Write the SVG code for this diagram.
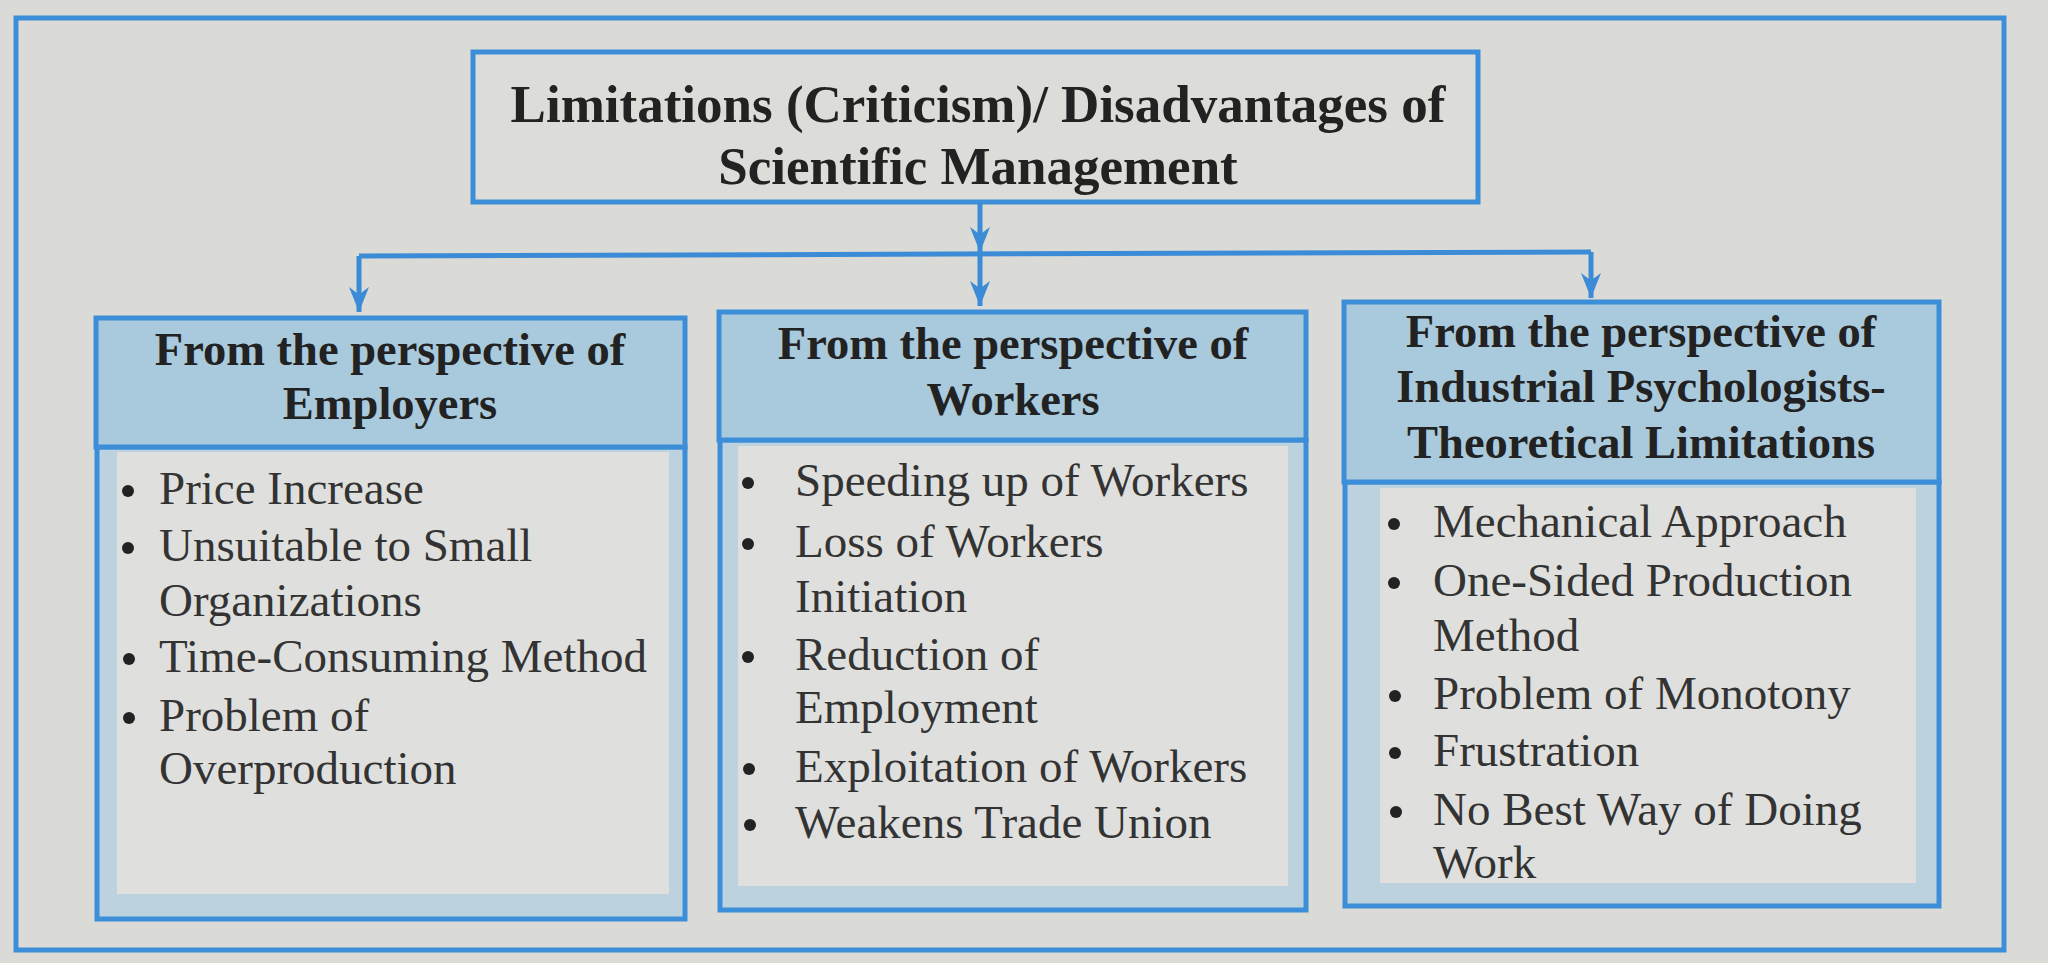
<svg xmlns="http://www.w3.org/2000/svg" width="2048" height="963" viewBox="0 0 2048 963">
<defs>
<style>
.bg{fill:#dadad6}
.frame{fill:none;stroke:#3d8ed8;stroke-width:5}
.title-box{fill:#dcdcd8;stroke:#3d8ed8;stroke-width:5}
.hdr{fill:#a9c9dc;stroke:#3d8ed8;stroke-width:5}
.body{fill:#bcd3df;stroke:#3d8ed8;stroke-width:5}
.inner{fill:#dfe0dd}
.title{font-family:"Liberation Serif",serif;font-weight:bold;font-size:53px;fill:#222;text-anchor:middle}
.htxt{font-family:"Liberation Serif",serif;font-weight:bold;font-size:46.5px;fill:#222;text-anchor:middle}
.item{font-family:"Liberation Serif",serif;font-size:47px;fill:#333}
.dot{fill:#222}
.conn{fill:none;stroke:#3b8bd6;stroke-width:5}
</style>
<marker id="arr" viewBox="0 0 10 10" refX="10" refY="5" markerWidth="6" markerHeight="5" orient="auto" markerUnits="strokeWidth">
<path d="M0,1 L10,5 L0,9 L3,5 z" fill="#3b8bd6"/>
</marker>
</defs>
<rect class="bg" x="0" y="0" width="2048" height="963"/>
<rect class="frame" x="16" y="18" width="1988" height="932"/>

<g id="title">
<rect class="title-box" x="473" y="52" width="1005" height="150"/>
<text class="title" x="978" y="122">Limitations (Criticism)/ Disadvantages of</text>
<text class="title" x="978" y="184">Scientific Management</text>
</g>

<g id="connectors">
<path class="conn" d="M980,203 L980,252" marker-end="url(#arr)"/>
<path class="conn" d="M359,256 L1591,252"/>
<path class="conn" d="M359,256 L359,312" marker-end="url(#arr)"/>
<path class="conn" d="M980,254 L980,306" marker-end="url(#arr)"/>
<path class="conn" d="M1591,252 L1591,298" marker-end="url(#arr)"/>
</g>

<g id="employers">
<rect class="body" x="97" y="447" width="588" height="472"/>
<rect class="inner" x="117" y="452" width="552" height="442"/>
<rect class="hdr" x="96" y="318" width="589" height="129"/>
<text class="htxt" x="390" y="365">From the perspective of</text>
<text class="htxt" x="390" y="419">Employers</text>
<circle class="dot" cx="128" cy="491" r="6"/>
<text class="item" x="159" y="504">Price Increase</text>
<circle class="dot" cx="128" cy="548" r="6"/>
<text class="item" x="159" y="561">Unsuitable to Small</text>
<text class="item" x="159" y="616">Organizations</text>
<circle class="dot" cx="129" cy="659" r="6"/>
<text class="item" x="159" y="672">Time-Consuming Method</text>
<circle class="dot" cx="129" cy="718" r="6"/>
<text class="item" x="159" y="731">Problem of</text>
<text class="item" x="159" y="784">Overproduction</text>
</g>

<g id="workers">
<rect class="body" x="720" y="440" width="586" height="470"/>
<rect class="inner" x="738" y="446" width="550" height="440"/>
<rect class="hdr" x="719" y="312" width="587" height="128"/>
<text class="htxt" x="1013" y="359">From the perspective of</text>
<text class="htxt" x="1013" y="415">Workers</text>
<circle class="dot" cx="748" cy="483" r="6"/>
<text class="item" x="795" y="496">Speeding up of Workers</text>
<circle class="dot" cx="748" cy="544" r="6"/>
<text class="item" x="795" y="557">Loss of Workers</text>
<text class="item" x="795" y="612">Initiation</text>
<circle class="dot" cx="748" cy="657" r="6"/>
<text class="item" x="795" y="670">Reduction of</text>
<text class="item" x="795" y="723">Employment</text>
<circle class="dot" cx="749" cy="769" r="6"/>
<text class="item" x="795" y="782">Exploitation of Workers</text>
<circle class="dot" cx="750" cy="825" r="6"/>
<text class="item" x="795" y="838">Weakens Trade Union</text>
</g>

<g id="psychologists">
<rect class="body" x="1345" y="482" width="594" height="424"/>
<rect class="inner" x="1380" y="488" width="536" height="395"/>
<rect class="hdr" x="1344" y="302" width="595" height="180"/>
<text class="htxt" x="1641" y="347">From the perspective of</text>
<text class="htxt" x="1641" y="402">Industrial Psychologists-</text>
<text class="htxt" x="1641" y="458">Theoretical Limitations</text>
<circle class="dot" cx="1394" cy="524" r="6"/>
<text class="item" x="1433" y="537">Mechanical Approach</text>
<circle class="dot" cx="1394" cy="583" r="6"/>
<text class="item" x="1433" y="596">One-Sided Production</text>
<text class="item" x="1433" y="651">Method</text>
<circle class="dot" cx="1395" cy="696" r="6"/>
<text class="item" x="1433" y="709">Problem of Monotony</text>
<circle class="dot" cx="1395" cy="753" r="6"/>
<text class="item" x="1433" y="766">Frustration</text>
<circle class="dot" cx="1396" cy="812" r="6"/>
<text class="item" x="1433" y="825">No Best Way of Doing</text>
<text class="item" x="1433" y="878">Work</text>
</g>
</svg>
